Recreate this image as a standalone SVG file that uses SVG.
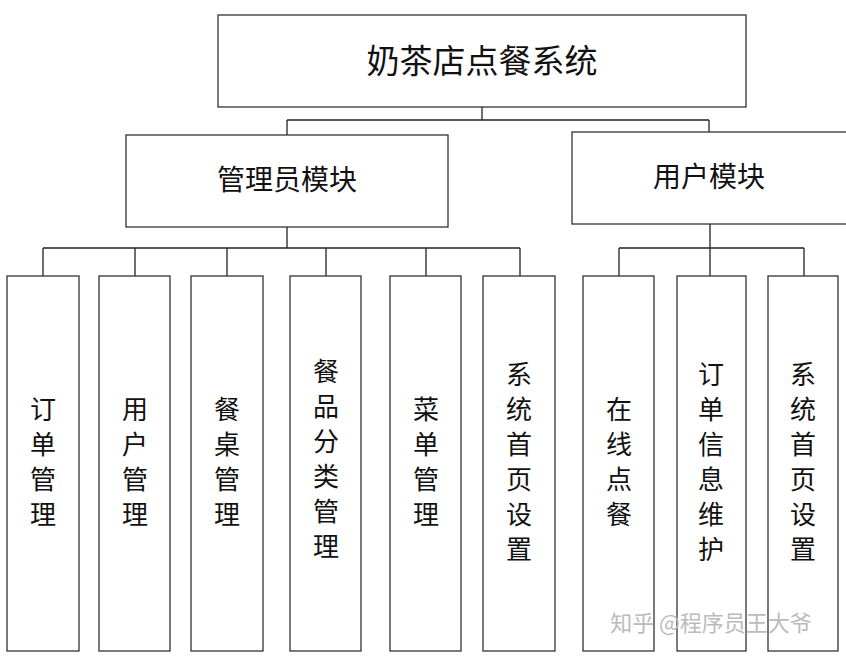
<svg xmlns="http://www.w3.org/2000/svg" width="846" height="656" viewBox="0 0 846 656">
<style>
rect{fill:#fff;stroke:#333;stroke-width:1.3}
.c{fill:none;stroke:#222;stroke-width:1.3}
text{font-family:"Noto Sans CJK SC",sans-serif;fill:#111;text-anchor:middle}
.v{font-size:26px}
</style>
<rect width="846" height="656" style="stroke:none"/>
<g id="connectors">
<path class="c" d="M482 107V120M287 120H709M287 120V135M709 120V132"/>
<path class="c" d="M287 227V248M43 248H520M43 248V276M135 248V276M227 248V276M326 248V276M426 248V276M520 248V276"/>
<path class="c" d="M710 224V248M619 248H804M619 248V276M710 248V276M804 248V276"/>
</g>
<g id="root"><rect x="218" y="15" width="528" height="92"/><text x="482" y="73" font-size="33">奶茶店点餐系统</text></g>
<g id="admin"><rect x="126" y="135" width="322" height="92"/><text x="287" y="190" font-size="28">管理员模块</text></g>
<g id="user"><rect x="572" y="132" width="280" height="92"/><text x="709" y="187" font-size="28">用户模块</text></g>
<g id="n1"><rect x="7" y="276" width="72" height="375"/><text class="v" x="43" y="419">订</text><text class="v" x="43" y="454">单</text><text class="v" x="43" y="489">管</text><text class="v" x="43" y="524">理</text></g>
<g id="n2"><rect x="99" y="276" width="71" height="375"/><text class="v" x="135" y="419">用</text><text class="v" x="135" y="454">户</text><text class="v" x="135" y="489">管</text><text class="v" x="135" y="524">理</text></g>
<g id="n3"><rect x="191" y="276" width="72" height="375"/><text class="v" x="227" y="419">餐</text><text class="v" x="227" y="454">桌</text><text class="v" x="227" y="489">管</text><text class="v" x="227" y="524">理</text></g>
<g id="n4"><rect x="290" y="276" width="71" height="375"/><text class="v" x="326" y="381">餐</text><text class="v" x="326" y="416">品</text><text class="v" x="326" y="451">分</text><text class="v" x="326" y="486">类</text><text class="v" x="326" y="521">管</text><text class="v" x="326" y="556">理</text></g>
<g id="n5"><rect x="390" y="276" width="71" height="375"/><text class="v" x="426" y="419">菜</text><text class="v" x="426" y="454">单</text><text class="v" x="426" y="489">管</text><text class="v" x="426" y="524">理</text></g>
<g id="n6"><rect x="483" y="276" width="72" height="375"/><text class="v" x="519" y="384">系</text><text class="v" x="519" y="419">统</text><text class="v" x="519" y="454">首</text><text class="v" x="519" y="489">页</text><text class="v" x="519" y="524">设</text><text class="v" x="519" y="559">置</text></g>
<g id="n7"><rect x="583" y="276" width="71" height="375"/><text class="v" x="619" y="419">在</text><text class="v" x="619" y="454">线</text><text class="v" x="619" y="489">点</text><text class="v" x="619" y="524">餐</text></g>
<g id="n8"><rect x="677" y="276" width="69" height="375"/><text class="v" x="711" y="384">订</text><text class="v" x="711" y="419">单</text><text class="v" x="711" y="454">信</text><text class="v" x="711" y="489">息</text><text class="v" x="711" y="524">维</text><text class="v" x="711" y="559">护</text></g>
<g id="n9"><rect x="768" y="276" width="70" height="375"/><text class="v" x="803" y="384">系</text><text class="v" x="803" y="419">统</text><text class="v" x="803" y="454">首</text><text class="v" x="803" y="489">页</text><text class="v" x="803" y="524">设</text><text class="v" x="803" y="559">置</text></g>
<text x="711" y="631" font-size="22" style="fill:#bbb">知乎 @程序员王大爷</text>
</svg>
